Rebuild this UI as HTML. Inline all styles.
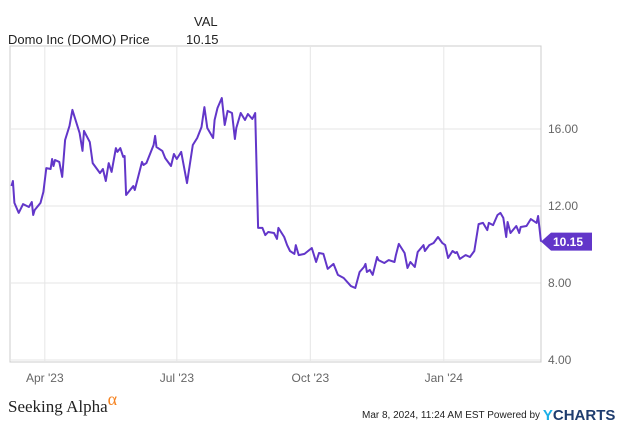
<!DOCTYPE html>
<html><head><meta charset="utf-8"><style>
body{margin:0;width:635px;height:424px;background:#fff;font-family:"Liberation Sans",sans-serif;overflow:hidden;position:relative}
.t{position:absolute;white-space:nowrap}
</style></head><body>
<div class="t" style="left:194px;top:14px;font-size:13px;color:#222">VAL</div>
<div class="t" style="left:8px;top:32px;font-size:13px;color:#222">Domo Inc (DOMO) Price</div>
<div class="t" style="left:186px;top:32px;font-size:13px;color:#222">10.15</div>
<svg id="chart" width="635" height="424" style="position:absolute;left:0;top:0"></svg>
<div class="t" style="left:8px;top:396px;font-size:17px;color:#222;font-family:'Liberation Serif',serif">Seeking Alpha<span style="color:#f5821f;font-size:18px;position:relative;top:-7px">α</span></div>
<div class="t" style="left:362px;top:405px;font-size:10px;color:#222">Mar 8, 2024, 11:24 AM EST Powered by <b style="font-size:15px;color:#1e3c6e;position:relative;top:2px"><span style="color:#1ab0e8">Y</span>CHARTS</b></div>
<script>
const days=[1,2,3,6,9,13,15,16,17,21,23,25,28,29,30,31,34,36,38,41,43,48,50,51,55,57,62,64,66,68,70,73,74,76,78,79,80,85,86,91,92,94,99,100,101,105,107,111,113,115,118,122,126,129,132,134,136,140,141,143,146,148,150,153,155,156,159,162,164,167,169,171,174,176,178,182,184,185,189,191,193,196,197,199,203,208,211,213,216,219,223,226,230,235,238,241,244,245,246,248,250,253,254,258,261,265,266,268,272,274,276,279,281,285,286,289,292,295,298,300,302,305,307,308,310,314,317,320,323,326,329,330,333,336,338,340,342,343,345,349,351,352,356,359,363,364,366];
const prices=[13.04,13.30,12.16,11.64,12.10,11.95,12.21,11.53,11.79,12.16,12.73,13.97,13.92,14.44,14.08,14.39,14.29,13.51,15.43,16.16,16.99,15.79,14.86,15.90,15.32,14.23,13.71,13.92,13.30,14.23,13.77,15.01,14.81,15.01,14.55,14.60,12.57,13.04,12.83,14.29,14.13,14.23,15.17,15.64,15.06,14.86,14.49,14.08,14.70,14.44,14.81,13.19,15.17,15.53,16.10,17.14,16.05,15.53,16.47,17.09,17.61,16.21,16.94,16.83,15.48,16.05,16.83,16.47,16.78,16.52,16.83,10.86,10.86,10.49,10.65,10.60,10.29,10.86,10.39,9.97,9.66,9.51,9.97,9.45,9.51,9.82,9.09,9.56,9.51,8.73,8.99,8.42,8.26,7.84,7.74,8.57,8.83,8.99,8.57,8.68,8.42,9.35,9.19,9.04,9.19,9.09,9.45,10.03,9.56,8.78,9.09,8.83,9.61,9.97,9.66,9.97,10.08,10.39,10.08,9.97,9.30,9.66,9.56,9.61,9.25,9.45,9.35,9.66,11.06,11.12,10.75,11.12,11.01,11.53,11.64,11.38,10.39,11.17,10.60,10.96,10.60,10.91,10.96,11.32,11.12,11.48,10.15];
const yTicks=[4,8,12,16];
const yTickLabels=["4.00","8.00","12.00","16.00"];
const xTickDays=[24,115,207,299];
const xTickLabels=["Apr '23","Jul '23","Oct '23","Jan '24"];
const lastLabel="10.15";
const L=10,R=541,T=46,B=362;
const xs=d=>L+d*(R-L)/366;
const ys=v=>206-(v-12)*19.25;
const svg=document.getElementById('chart');
const NS='http://www.w3.org/2000/svg';
function mk(tag,attrs){const e=document.createElementNS(NS,tag);for(const k in attrs)e.setAttribute(k,attrs[k]);svg.appendChild(e);return e;}
let e=mk('rect',{x:L,y:T,width:R-L,height:B-T,fill:'#fff',stroke:'#ccc','stroke-width':1});


yTicks.forEach((v,i)=>{
 const g=mk('line',{x1:L,x2:R,y1:ys(v),y2:ys(v),stroke:'#e6e6e6','stroke-width':1});
 
 
 const t=mk('text',{x:548,y:ys(v)+4,'font-size':12,fill:'#666','font-family':'Liberation Sans, sans-serif'});
 t.textContent=yTickLabels[i];
 
 
});
xTickDays.forEach((d,i)=>{
 const g=mk('line',{x1:xs(d),x2:xs(d),y1:T,y2:B,stroke:'#e6e6e6','stroke-width':1});
 
 
 const t=mk('text',{x:xs(d),y:382,'font-size':12,fill:'#666','text-anchor':'middle','font-family':'Liberation Sans, sans-serif'});
 t.textContent=xTickLabels[i];
 
 
});
const ax=mk('line',{x1:R,x2:R,y1:T,y2:B,stroke:'#ccc','stroke-width':1});


const pts=days.map((d,i)=>xs(d).toFixed(1)+','+ys(prices[i]).toFixed(1)).join(' ');
const pl=mk('polyline',{points:pts,fill:'none',stroke:'#6236c9','stroke-width':2,'stroke-linejoin':'round'});


const ly=ys(prices[prices.length-1]);
const tag=mk('path',{d:`M${R} ${ly} L${R+10} ${ly-9} L592 ${ly-9} L592 ${ly+9} L${R+10} ${ly+9} Z`,fill:'#6236c9'});


const tt=mk('text',{x:553,y:ly+4.5,'font-size':12,'font-weight':'bold',fill:'#fff','font-family':'Liberation Sans, sans-serif'});
tt.textContent=lastLabel;


</script>
</body></html>
